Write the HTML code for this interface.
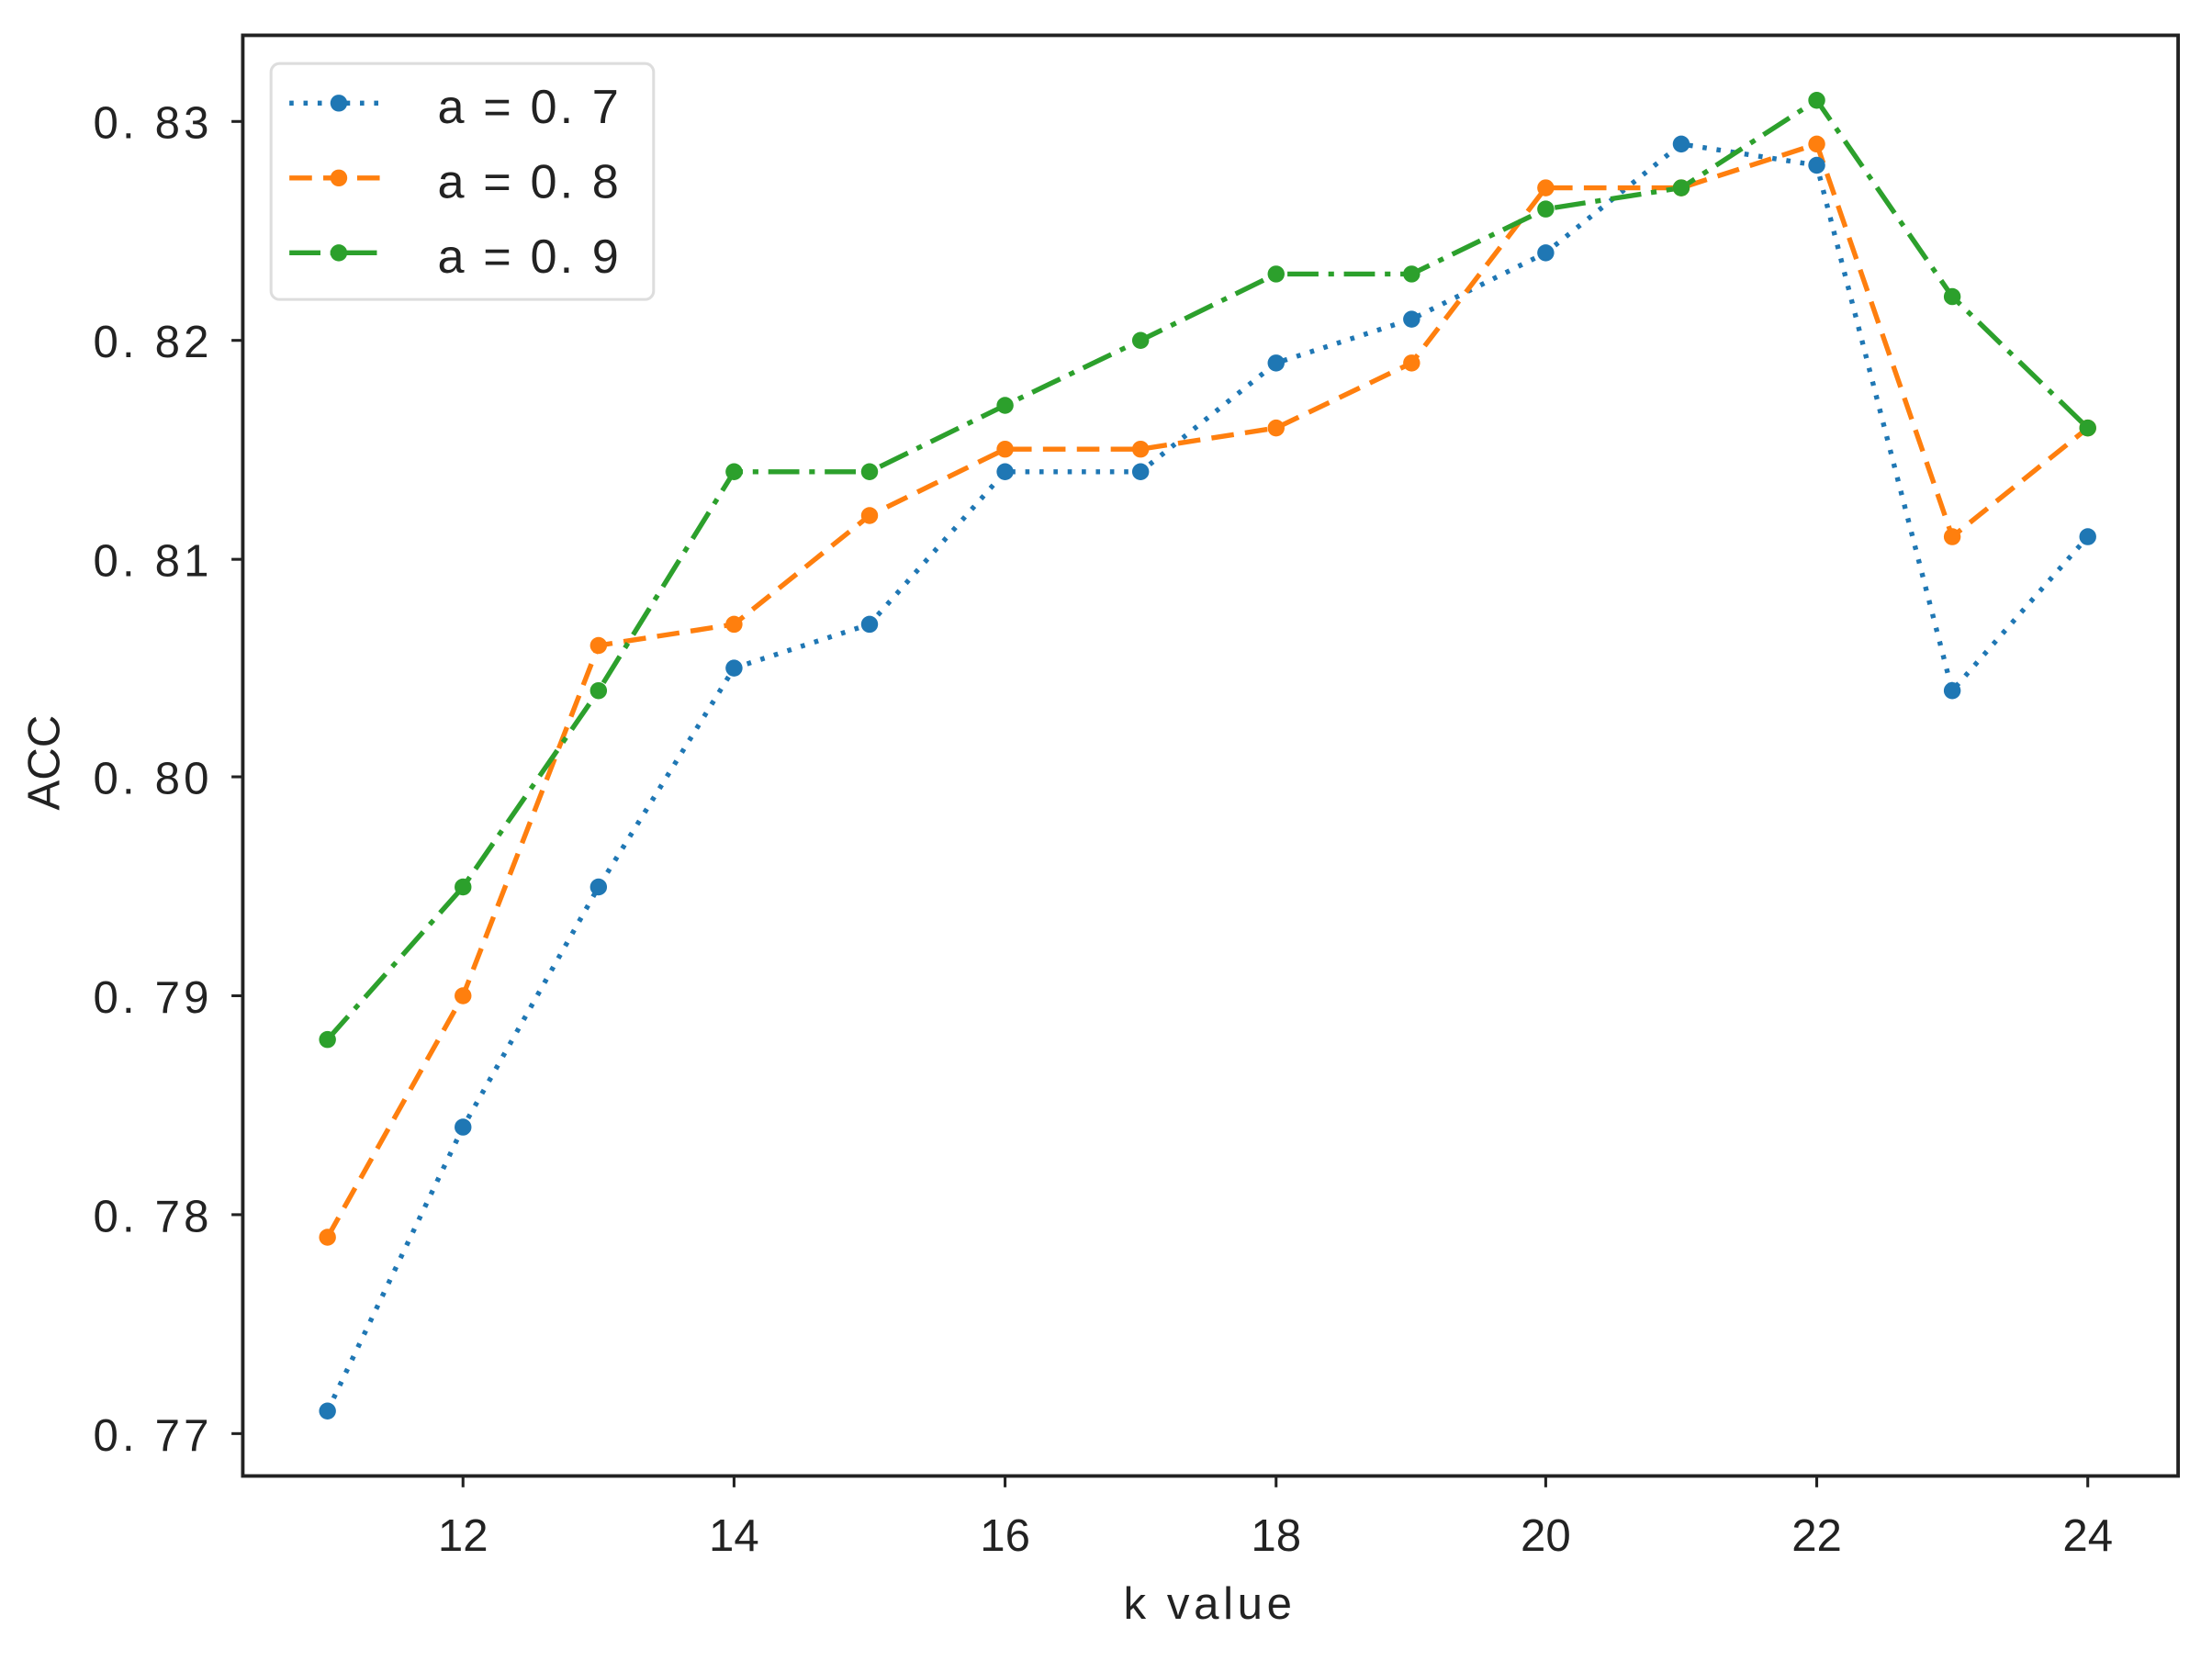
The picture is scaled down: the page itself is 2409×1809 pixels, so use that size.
<!DOCTYPE html>
<html><head><meta charset="utf-8"><style>html,body{margin:0;padding:0;background:#fff}svg{display:block}</style></head>
<body>
<svg width="2409" height="1809" viewBox="0 0 1567 1176" preserveAspectRatio="none" xmlns="http://www.w3.org/2000/svg">
<rect width="1567" height="1176" fill="#fff"/>
<g font-family="Liberation Sans, sans-serif" font-size="32" fill="#222">
<g stroke="#222" stroke-width="2">
<line x1="164" y1="86" x2="172" y2="86"/><line x1="164" y1="241" x2="172" y2="241"/><line x1="164" y1="396" x2="172" y2="396"/><line x1="164" y1="550" x2="172" y2="550"/><line x1="164" y1="705" x2="172" y2="705"/><line x1="164" y1="860" x2="172" y2="860"/><line x1="164" y1="1015" x2="172" y2="1015"/>
<line x1="328" y1="1045" x2="328" y2="1053"/><line x1="520" y1="1045" x2="520" y2="1053"/><line x1="712" y1="1045" x2="712" y2="1053"/><line x1="904" y1="1045" x2="904" y2="1053"/><line x1="1095" y1="1045" x2="1095" y2="1053"/><line x1="1287" y1="1045" x2="1287" y2="1053"/><line x1="1479" y1="1045" x2="1479" y2="1053"/>
</g>
<g text-anchor="end">
<text x="148" y="98" textLength="82">0. 83</text><text x="148" y="253" textLength="82">0. 82</text><text x="148" y="408" textLength="82">0. 81</text><text x="148" y="562" textLength="82">0. 80</text><text x="148" y="717" textLength="82">0. 79</text><text x="148" y="872" textLength="82">0. 78</text><text x="148" y="1027" textLength="82">0. 77</text>
</g>
<g text-anchor="middle">
<text x="328" y="1098">12</text><text x="520" y="1098">14</text><text x="712" y="1098">16</text><text x="904" y="1098">18</text><text x="1095" y="1098">20</text><text x="1287" y="1098">22</text><text x="1479" y="1098">24</text>
<text x="857" y="1146" letter-spacing="3">k value</text>
<text transform="translate(42,540) rotate(-90)">ACC</text>
</g>
</g>
<g fill="none" stroke-width="3.5">
<polyline stroke="#1f77b4" stroke-dasharray="3,7" points="232,999 328,798 424,628 520,473 616,442 712,334 808,334 904,257 1000,226 1095,179 1191,102 1287,117 1383,489 1479,380"/>
<polyline stroke="#ff7f0e" stroke-dasharray="16,8" points="232,876 328,705 424,457 520,442 616,365 712,318 808,318 904,303 1000,257 1095,133 1191,133 1287,102 1383,380 1479,303"/>
<polyline stroke="#2ca02c" stroke-dasharray="22,7,4,7" points="232,736 328,628 424,489 520,334 616,334 712,287 808,241 904,194 1000,194 1095,148 1191,133 1287,71 1383,210 1479,303"/>
</g>
<g fill="#1f77b4"><circle cx="232" cy="999" r="6"/><circle cx="328" cy="798" r="6"/><circle cx="424" cy="628" r="6"/><circle cx="520" cy="473" r="6"/><circle cx="616" cy="442" r="6"/><circle cx="712" cy="334" r="6"/><circle cx="808" cy="334" r="6"/><circle cx="904" cy="257" r="6"/><circle cx="1000" cy="226" r="6"/><circle cx="1095" cy="179" r="6"/><circle cx="1191" cy="102" r="6"/><circle cx="1287" cy="117" r="6"/><circle cx="1383" cy="489" r="6"/><circle cx="1479" cy="380" r="6"/></g>
<g fill="#ff7f0e"><circle cx="232" cy="876" r="6"/><circle cx="328" cy="705" r="6"/><circle cx="424" cy="457" r="6"/><circle cx="520" cy="442" r="6"/><circle cx="616" cy="365" r="6"/><circle cx="712" cy="318" r="6"/><circle cx="808" cy="318" r="6"/><circle cx="904" cy="303" r="6"/><circle cx="1000" cy="257" r="6"/><circle cx="1095" cy="133" r="6"/><circle cx="1191" cy="133" r="6"/><circle cx="1287" cy="102" r="6"/><circle cx="1383" cy="380" r="6"/><circle cx="1479" cy="303" r="6"/></g>
<g fill="#2ca02c"><circle cx="232" cy="736" r="6"/><circle cx="328" cy="628" r="6"/><circle cx="424" cy="489" r="6"/><circle cx="520" cy="334" r="6"/><circle cx="616" cy="334" r="6"/><circle cx="712" cy="287" r="6"/><circle cx="808" cy="241" r="6"/><circle cx="904" cy="194" r="6"/><circle cx="1000" cy="194" r="6"/><circle cx="1095" cy="148" r="6"/><circle cx="1191" cy="133" r="6"/><circle cx="1287" cy="71" r="6"/><circle cx="1383" cy="210" r="6"/><circle cx="1479" cy="303" r="6"/></g>
<rect x="172" y="25" width="1371" height="1020" fill="none" stroke="#222" stroke-width="2.5"/>
<rect x="192" y="45" width="271" height="167" rx="6" fill="#fff" fill-opacity="0.85" stroke="#ddd" stroke-width="2"/>
<g stroke-width="3.5">
<line x1="205" y1="73" x2="272" y2="73" stroke="#1f77b4" stroke-dasharray="3,7"/><circle cx="240" cy="73" r="6" fill="#1f77b4"/>
<line x1="205" y1="126" x2="272" y2="126" stroke="#ff7f0e" stroke-dasharray="16,8"/><circle cx="240" cy="126" r="6" fill="#ff7f0e"/>
<line x1="205" y1="179" x2="272" y2="179" stroke="#2ca02c" stroke-dasharray="22,7,4,7"/><circle cx="240" cy="179" r="6" fill="#2ca02c"/>
</g>
<g font-family="Liberation Sans, sans-serif" font-size="34" fill="#222" letter-spacing="2">
<text x="310" y="87">a = 0. 7</text><text x="310" y="140">a = 0. 8</text><text x="310" y="193">a = 0. 9</text>
</g>
</svg>
</body></html>
